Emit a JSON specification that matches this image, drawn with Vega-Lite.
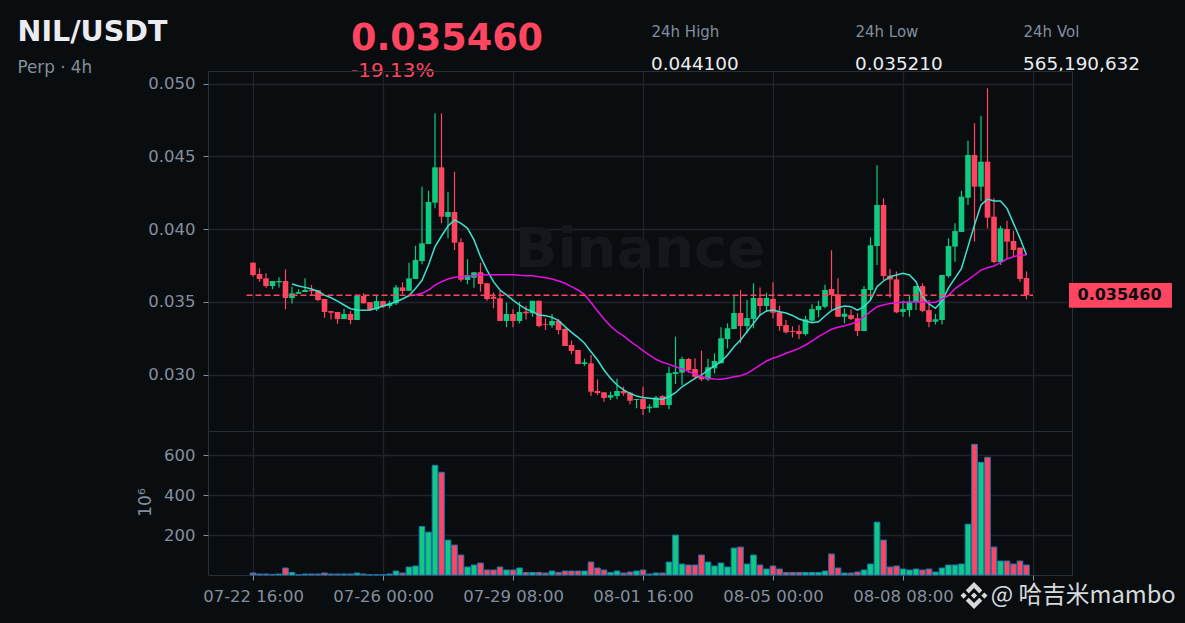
{
"$schema":"https://vega.github.io/schema/vega-lite/v6.json",
"background":"#0a0d10",
"padding":{"left":17,"top":0,"right":9,"bottom":15},
"bounds":"flush",
"spacing":0,
"datasets":{"kline":[
{"t":"2025-07-22T16:00Z","o":0.03770,"h":0.03770,"l":0.03673,"c":0.03685,"v":10},
{"t":"2025-07-22T20:00Z","o":0.03692,"h":0.03731,"l":0.03639,"c":0.03658,"v":5},
{"t":"2025-07-23T00:00Z","o":0.03662,"h":0.03697,"l":0.03598,"c":0.03609,"v":5},
{"t":"2025-07-23T04:00Z","o":0.03609,"h":0.03644,"l":0.03587,"c":0.03644,"v":3},
{"t":"2025-07-23T08:00Z","o":0.03635,"h":0.03669,"l":0.03600,"c":0.03644,"v":5},
{"t":"2025-07-23T12:00Z","o":0.03644,"h":0.03724,"l":0.03449,"c":0.03527,"v":35},
{"t":"2025-07-23T16:00Z","o":0.03527,"h":0.03604,"l":0.03490,"c":0.03559,"v":13,"ma7":0.03623},
{"t":"2025-07-23T20:00Z","o":0.03556,"h":0.03587,"l":0.03556,"c":0.03568,"v":0.5,"ma7":0.03609},
{"t":"2025-07-24T00:00Z","o":0.03568,"h":0.03662,"l":0.03568,"c":0.03582,"v":5,"ma7":0.03600},
{"t":"2025-07-24T04:00Z","o":0.03582,"h":0.03616,"l":0.03547,"c":0.03573,"v":5,"ma7":0.03589},
{"t":"2025-07-24T08:00Z","o":0.03580,"h":0.03582,"l":0.03506,"c":0.03513,"v":5,"ma7":0.03573},
{"t":"2025-07-24T12:00Z","o":0.03520,"h":0.03520,"l":0.03391,"c":0.03431,"v":10,"ma7":0.03547},
{"t":"2025-07-24T16:00Z","o":0.03437,"h":0.03437,"l":0.03380,"c":0.03426,"v":5,"ma7":0.03529},
{"t":"2025-07-24T20:00Z","o":0.03431,"h":0.03431,"l":0.03350,"c":0.03382,"v":5,"ma7":0.03506},
{"t":"2025-07-25T00:00Z","o":0.03382,"h":0.03453,"l":0.03382,"c":0.03417,"v":5,"ma7":0.03479},
{"t":"2025-07-25T04:00Z","o":0.03417,"h":0.03437,"l":0.03346,"c":0.03376,"v":5,"ma7":0.03453},
{"t":"2025-07-25T08:00Z","o":0.03376,"h":0.03541,"l":0.03376,"c":0.03541,"v":10,"ma7":0.03444},
{"t":"2025-07-25T12:00Z","o":0.03541,"h":0.03559,"l":0.03490,"c":0.03490,"v":5,"ma7":0.03442},
{"t":"2025-07-25T16:00Z","o":0.03499,"h":0.03499,"l":0.03437,"c":0.03444,"v":1,"ma7":0.03444},
{"t":"2025-07-25T20:00Z","o":0.03449,"h":0.03541,"l":0.03437,"c":0.03506,"v":1,"ma7":0.03456},
{"t":"2025-07-26T00:00Z","o":0.03506,"h":0.03506,"l":0.03458,"c":0.03467,"v":1,"ma7":0.03472},
{"t":"2025-07-26T04:00Z","o":0.03472,"h":0.03508,"l":0.03456,"c":0.03490,"v":5,"ma7":0.03486},
{"t":"2025-07-26T08:00Z","o":0.03490,"h":0.03616,"l":0.03479,"c":0.03600,"v":20,"ma7":0.03501},
{"t":"2025-07-26T12:00Z","o":0.03600,"h":0.03635,"l":0.03554,"c":0.03575,"v":10,"ma7":0.03520},
{"t":"2025-07-26T16:00Z","o":0.03577,"h":0.03770,"l":0.03577,"c":0.03662,"v":40,"ma7":0.03544,"ma25":0.03543},
{"t":"2025-07-26T20:00Z","o":0.03658,"h":0.03886,"l":0.03658,"c":0.03788,"v":45,"ma7":0.03592,"ma25":0.03548},
{"t":"2025-07-27T00:00Z","o":0.03781,"h":0.04292,"l":0.03759,"c":0.03903,"v":243,"ma7":0.03649,"ma25":0.03559},
{"t":"2025-07-27T04:00Z","o":0.03898,"h":0.04264,"l":0.03898,"c":0.04187,"v":215,"ma7":0.03754,"ma25":0.03582},
{"t":"2025-07-27T08:00Z","o":0.04182,"h":0.04796,"l":0.04143,"c":0.04425,"v":550,"ma7":0.03880,"ma25":0.03616},
{"t":"2025-07-27T12:00Z","o":0.04425,"h":0.04796,"l":0.04040,"c":0.04086,"v":515,"ma7":0.03953,"ma25":0.03639},
{"t":"2025-07-27T16:00Z","o":0.04084,"h":0.04257,"l":0.03937,"c":0.04118,"v":175,"ma7":0.04022,"ma25":0.03658},
{"t":"2025-07-27T20:00Z","o":0.04118,"h":0.04395,"l":0.03857,"c":0.03907,"v":150,"ma7":0.04063,"ma25":0.03669},
{"t":"2025-07-28T00:00Z","o":0.03910,"h":0.03937,"l":0.03639,"c":0.03653,"v":100,"ma7":0.04040,"ma25":0.03673},
{"t":"2025-07-28T04:00Z","o":0.03651,"h":0.03793,"l":0.03621,"c":0.03685,"v":40,"ma7":0.04006,"ma25":0.03678},
{"t":"2025-07-28T08:00Z","o":0.03666,"h":0.03704,"l":0.03598,"c":0.03704,"v":50,"ma7":0.03926,"ma25":0.03680},
{"t":"2025-07-28T12:00Z","o":0.03704,"h":0.03770,"l":0.03570,"c":0.03623,"v":60,"ma7":0.03811,"ma25":0.03685},
{"t":"2025-07-28T16:00Z","o":0.03628,"h":0.03630,"l":0.03508,"c":0.03520,"v":25,"ma7":0.03719,"ma25":0.03687},
{"t":"2025-07-28T20:00Z","o":0.03536,"h":0.03566,"l":0.03456,"c":0.03522,"v":25,"ma7":0.03639,"ma25":0.03687},
{"t":"2025-07-29T00:00Z","o":0.03525,"h":0.03575,"l":0.03369,"c":0.03369,"v":40,"ma7":0.03582,"ma25":0.03687},
{"t":"2025-07-29T04:00Z","o":0.03369,"h":0.03495,"l":0.03326,"c":0.03417,"v":25,"ma7":0.03548,"ma25":0.03687},
{"t":"2025-07-29T08:00Z","o":0.03417,"h":0.03449,"l":0.03326,"c":0.03369,"v":25,"ma7":0.03513,"ma25":0.03687},
{"t":"2025-07-29T12:00Z","o":0.03369,"h":0.03501,"l":0.03353,"c":0.03431,"v":35,"ma7":0.03479,"ma25":0.03683},
{"t":"2025-07-29T16:00Z","o":0.03433,"h":0.03474,"l":0.03380,"c":0.03422,"v":13,"ma7":0.03451,"ma25":0.03680},
{"t":"2025-07-29T20:00Z","o":0.03422,"h":0.03508,"l":0.03398,"c":0.03508,"v":13,"ma7":0.03433,"ma25":0.03680},
{"t":"2025-07-30T00:00Z","o":0.03508,"h":0.03508,"l":0.03326,"c":0.03334,"v":13,"ma7":0.03410,"ma25":0.03673},
{"t":"2025-07-30T04:00Z","o":0.03348,"h":0.03387,"l":0.03307,"c":0.03343,"v":10,"ma7":0.03405,"ma25":0.03666},
{"t":"2025-07-30T08:00Z","o":0.03339,"h":0.03417,"l":0.03323,"c":0.03369,"v":20,"ma7":0.03394,"ma25":0.03658},
{"t":"2025-07-30T12:00Z","o":0.03369,"h":0.03383,"l":0.03277,"c":0.03307,"v":13,"ma7":0.03371,"ma25":0.03644},
{"t":"2025-07-30T16:00Z","o":0.03314,"h":0.03321,"l":0.03197,"c":0.03197,"v":20,"ma7":0.03330,"ma25":0.03628},
{"t":"2025-07-30T20:00Z","o":0.03204,"h":0.03234,"l":0.03140,"c":0.03163,"v":20,"ma7":0.03291,"ma25":0.03605},
{"t":"2025-07-31T00:00Z","o":0.03170,"h":0.03170,"l":0.03073,"c":0.03073,"v":20,"ma7":0.03257,"ma25":0.03582},
{"t":"2025-07-31T04:00Z","o":0.03073,"h":0.03110,"l":0.03060,"c":0.03085,"v":20,"ma7":0.03216,"ma25":0.03550},
{"t":"2025-07-31T08:00Z","o":0.03078,"h":0.03135,"l":0.02855,"c":0.02883,"v":65,"ma7":0.03158,"ma25":0.03496},
{"t":"2025-07-31T12:00Z","o":0.02888,"h":0.02968,"l":0.02860,"c":0.02874,"v":35,"ma7":0.03101,"ma25":0.03438},
{"t":"2025-07-31T16:00Z","o":0.02879,"h":0.02879,"l":0.02814,"c":0.02840,"v":25,"ma7":0.03032,"ma25":0.03383},
{"t":"2025-07-31T20:00Z","o":0.02842,"h":0.02883,"l":0.02826,"c":0.02860,"v":13,"ma7":0.02975,"ma25":0.03334},
{"t":"2025-08-01T00:00Z","o":0.02853,"h":0.02972,"l":0.02831,"c":0.02888,"v":20,"ma7":0.02929,"ma25":0.03295},
{"t":"2025-08-01T04:00Z","o":0.02888,"h":0.02917,"l":0.02855,"c":0.02872,"v":10,"ma7":0.02895,"ma25":0.03266},
{"t":"2025-08-01T08:00Z","o":0.02876,"h":0.02881,"l":0.02796,"c":0.02821,"v":15,"ma7":0.02872,"ma25":0.03231},
{"t":"2025-08-01T12:00Z","o":0.02826,"h":0.02833,"l":0.02769,"c":0.02833,"v":20,"ma7":0.02853,"ma25":0.03199},
{"t":"2025-08-01T16:00Z","o":0.02833,"h":0.02917,"l":0.02723,"c":0.02764,"v":25,"ma7":0.02844,"ma25":0.03165},
{"t":"2025-08-01T20:00Z","o":0.02769,"h":0.02798,"l":0.02739,"c":0.02780,"v":5,"ma7":0.02838,"ma25":0.03135},
{"t":"2025-08-02T00:00Z","o":0.02773,"h":0.02855,"l":0.02773,"c":0.02844,"v":10,"ma7":0.02833,"ma25":0.03106},
{"t":"2025-08-02T04:00Z","o":0.02853,"h":0.02860,"l":0.02791,"c":0.02791,"v":10,"ma7":0.02831,"ma25":0.03085},
{"t":"2025-08-02T08:00Z","o":0.02791,"h":0.03055,"l":0.02762,"c":0.03011,"v":65,"ma7":0.02849,"ma25":0.03071},
{"t":"2025-08-02T12:00Z","o":0.03005,"h":0.03261,"l":0.02936,"c":0.03018,"v":200,"ma7":0.02876,"ma25":0.03055},
{"t":"2025-08-02T16:00Z","o":0.03014,"h":0.03124,"l":0.02929,"c":0.03108,"v":55,"ma7":0.02917,"ma25":0.03039},
{"t":"2025-08-02T20:00Z","o":0.03108,"h":0.03115,"l":0.03014,"c":0.03032,"v":50,"ma7":0.02945,"ma25":0.03023},
{"t":"2025-08-03T00:00Z","o":0.03039,"h":0.03113,"l":0.02968,"c":0.02986,"v":50,"ma7":0.02975,"ma25":0.03005},
{"t":"2025-08-03T04:00Z","o":0.02986,"h":0.03165,"l":0.02956,"c":0.02968,"v":100,"ma7":0.02998,"ma25":0.02986},
{"t":"2025-08-03T08:00Z","o":0.02968,"h":0.03110,"l":0.02956,"c":0.03051,"v":65,"ma7":0.03032,"ma25":0.02975},
{"t":"2025-08-03T12:00Z","o":0.03044,"h":0.03147,"l":0.03009,"c":0.03094,"v":45,"ma7":0.03060,"ma25":0.02970},
{"t":"2025-08-03T16:00Z","o":0.03078,"h":0.03326,"l":0.03078,"c":0.03250,"v":60,"ma7":0.03089,"ma25":0.02968},
{"t":"2025-08-03T20:00Z","o":0.03245,"h":0.03353,"l":0.03181,"c":0.03319,"v":40,"ma7":0.03135,"ma25":0.02975},
{"t":"2025-08-04T00:00Z","o":0.03314,"h":0.03548,"l":0.03314,"c":0.03424,"v":135,"ma7":0.03192,"ma25":0.02986},
{"t":"2025-08-04T04:00Z","o":0.03424,"h":0.03582,"l":0.03216,"c":0.03334,"v":140,"ma7":0.03238,"ma25":0.02993},
{"t":"2025-08-04T08:00Z","o":0.03334,"h":0.03513,"l":0.03284,"c":0.03389,"v":55,"ma7":0.03295,"ma25":0.03009},
{"t":"2025-08-04T12:00Z","o":0.03383,"h":0.03628,"l":0.03319,"c":0.03527,"v":100,"ma7":0.03353,"ma25":0.03037},
{"t":"2025-08-04T16:00Z","o":0.03527,"h":0.03600,"l":0.03410,"c":0.03472,"v":50,"ma7":0.03410,"ma25":0.03066},
{"t":"2025-08-04T20:00Z","o":0.03472,"h":0.03563,"l":0.03433,"c":0.03527,"v":30,"ma7":0.03438,"ma25":0.03094},
{"t":"2025-08-05T00:00Z","o":0.03520,"h":0.03635,"l":0.03387,"c":0.03426,"v":45,"ma7":0.03444,"ma25":0.03113},
{"t":"2025-08-05T04:00Z","o":0.03429,"h":0.03474,"l":0.03302,"c":0.03334,"v":30,"ma7":0.03433,"ma25":0.03128},
{"t":"2025-08-05T08:00Z","o":0.03341,"h":0.03376,"l":0.03283,"c":0.03291,"v":13,"ma7":0.03424,"ma25":0.03147},
{"t":"2025-08-05T12:00Z","o":0.03300,"h":0.03332,"l":0.03255,"c":0.03293,"v":13,"ma7":0.03407,"ma25":0.03163},
{"t":"2025-08-05T16:00Z","o":0.03300,"h":0.03341,"l":0.03245,"c":0.03279,"v":13,"ma7":0.03383,"ma25":0.03181},
{"t":"2025-08-05T20:00Z","o":0.03279,"h":0.03405,"l":0.03268,"c":0.03380,"v":13,"ma7":0.03369,"ma25":0.03204},
{"t":"2025-08-06T00:00Z","o":0.03371,"h":0.03484,"l":0.03360,"c":0.03451,"v":13,"ma7":0.03357,"ma25":0.03231},
{"t":"2025-08-06T04:00Z","o":0.03444,"h":0.03508,"l":0.03394,"c":0.03472,"v":13,"ma7":0.03364,"ma25":0.03261},
{"t":"2025-08-06T08:00Z","o":0.03467,"h":0.03618,"l":0.03456,"c":0.03582,"v":20,"ma7":0.03403,"ma25":0.03288},
{"t":"2025-08-06T12:00Z","o":0.03589,"h":0.03855,"l":0.03444,"c":0.03548,"v":105,"ma7":0.03440,"ma25":0.03312},
{"t":"2025-08-06T16:00Z","o":0.03552,"h":0.03662,"l":0.03398,"c":0.03398,"v":35,"ma7":0.03460,"ma25":0.03326},
{"t":"2025-08-06T20:00Z","o":0.03398,"h":0.03456,"l":0.03353,"c":0.03419,"v":10,"ma7":0.03472,"ma25":0.03337},
{"t":"2025-08-07T00:00Z","o":0.03410,"h":0.03449,"l":0.03376,"c":0.03383,"v":10,"ma7":0.03467,"ma25":0.03348},
{"t":"2025-08-07T04:00Z","o":0.03387,"h":0.03422,"l":0.03266,"c":0.03300,"v":15,"ma7":0.03444,"ma25":0.03364},
{"t":"2025-08-07T08:00Z","o":0.03300,"h":0.03609,"l":0.03300,"c":0.03589,"v":25,"ma7":0.03467,"ma25":0.03398},
{"t":"2025-08-07T12:00Z","o":0.03582,"h":0.03944,"l":0.03513,"c":0.03889,"v":55,"ma7":0.03513,"ma25":0.03433},
{"t":"2025-08-07T16:00Z","o":0.03884,"h":0.04439,"l":0.03754,"c":0.04166,"v":265,"ma7":0.03605,"ma25":0.03467},
{"t":"2025-08-07T20:00Z","o":0.04166,"h":0.04212,"l":0.03651,"c":0.03678,"v":175,"ma7":0.03644,"ma25":0.03479},
{"t":"2025-08-08T00:00Z","o":0.03680,"h":0.03726,"l":0.03529,"c":0.03654,"v":40,"ma7":0.03673,"ma25":0.03490},
{"t":"2025-08-08T04:00Z","o":0.03655,"h":0.03709,"l":0.03422,"c":0.03429,"v":45,"ma7":0.03685,"ma25":0.03495},
{"t":"2025-08-08T08:00Z","o":0.03431,"h":0.03508,"l":0.03398,"c":0.03451,"v":30,"ma7":0.03697,"ma25":0.03497},
{"t":"2025-08-08T12:00Z","o":0.03444,"h":0.03548,"l":0.03398,"c":0.03497,"v":25,"ma7":0.03685,"ma25":0.03499},
{"t":"2025-08-08T16:00Z","o":0.03497,"h":0.03609,"l":0.03444,"c":0.03609,"v":30,"ma7":0.03639,"ma25":0.03501},
{"t":"2025-08-08T20:00Z","o":0.03609,"h":0.03628,"l":0.03429,"c":0.03438,"v":25,"ma7":0.03536,"ma25":0.03499},
{"t":"2025-08-09T00:00Z","o":0.03444,"h":0.03513,"l":0.03326,"c":0.03362,"v":30,"ma7":0.03486,"ma25":0.03495},
{"t":"2025-08-09T04:00Z","o":0.03364,"h":0.03417,"l":0.03345,"c":0.03381,"v":15,"ma7":0.03456,"ma25":0.03497},
{"t":"2025-08-09T08:00Z","o":0.03376,"h":0.03685,"l":0.03345,"c":0.03685,"v":35,"ma7":0.03506,"ma25":0.03520},
{"t":"2025-08-09T12:00Z","o":0.03678,"h":0.03937,"l":0.03666,"c":0.03884,"v":50,"ma7":0.03596,"ma25":0.03544},
{"t":"2025-08-09T16:00Z","o":0.03880,"h":0.04040,"l":0.03776,"c":0.03987,"v":50,"ma7":0.03664,"ma25":0.03592},
{"t":"2025-08-09T20:00Z","o":0.03981,"h":0.04264,"l":0.03981,"c":0.04223,"v":55,"ma7":0.03731,"ma25":0.03623},
{"t":"2025-08-10T00:00Z","o":0.04216,"h":0.04608,"l":0.04166,"c":0.04510,"v":255,"ma7":0.03880,"ma25":0.03651},
{"t":"2025-08-10T04:00Z","o":0.04510,"h":0.04728,"l":0.03914,"c":0.04292,"v":655,"ma7":0.04029,"ma25":0.03685},
{"t":"2025-08-10T08:00Z","o":0.04292,"h":0.04778,"l":0.04194,"c":0.04464,"v":565,"ma7":0.04166,"ma25":0.03719},
{"t":"2025-08-10T12:00Z","o":0.04464,"h":0.04968,"l":0.04006,"c":0.04079,"v":590,"ma7":0.04207,"ma25":0.03735},
{"t":"2025-08-10T16:00Z","o":0.04086,"h":0.04212,"l":0.03765,"c":0.03774,"v":140,"ma7":0.04194,"ma25":0.03747},
{"t":"2025-08-10T20:00Z","o":0.03774,"h":0.04024,"l":0.03754,"c":0.04006,"v":70,"ma7":0.04194,"ma25":0.03770},
{"t":"2025-08-11T00:00Z","o":0.04001,"h":0.04058,"l":0.03795,"c":0.03914,"v":70,"ma7":0.04143,"ma25":0.03795},
{"t":"2025-08-11T04:00Z","o":0.03919,"h":0.03989,"l":0.03811,"c":0.03857,"v":55,"ma7":0.04040,"ma25":0.03811},
{"t":"2025-08-11T08:00Z","o":0.03873,"h":0.03873,"l":0.03639,"c":0.03658,"v":70,"ma7":0.03937,"ma25":0.03822},
{"t":"2025-08-11T12:00Z","o":0.03664,"h":0.03709,"l":0.03518,"c":0.03546,"v":50,"ma7":0.03822,"ma25":0.03822}
]},
"vconcat":[
{
"width":864,"height":71,
"view":{"stroke":null},
"data":{"values":[{}]},
"layer":[
{"mark":{"type":"text","text":"NIL/USDT","fontSize":28.5,"fontWeight":"bold","color":"#eaecef","align":"left","baseline":"alphabetic"},"encoding":{"x":{"datum":-0.2204,"scale":{"domain":[0,1]},"axis":null},"y":{"datum":0.4225,"scale":{"domain":[0,1]},"axis":null}}},
{"mark":{"type":"text","text":"Perp · 4h","fontSize":16.8,"color":"#848e9c","align":"left","baseline":"alphabetic"},"encoding":{"x":{"datum":-0.2206,"scale":{"domain":[0,1]},"axis":null},"y":{"datum":-0.028,"scale":{"domain":[0,1]},"axis":null}}},
{"mark":{"type":"text","text":"0.035460","fontSize":36.6,"fontWeight":"bold","color":"#ff4560","align":"left","baseline":"alphabetic"},"encoding":{"x":{"datum":0.1655,"scale":{"domain":[0,1]},"axis":null},"y":{"datum":0.296,"scale":{"domain":[0,1]},"axis":null}}},
{"mark":{"type":"text","text":"-19.13%","fontSize":20,"color":"#ff4560","align":"left","baseline":"alphabetic"},"encoding":{"x":{"datum":0.1655,"scale":{"domain":[0,1]},"axis":null},"y":{"datum":-0.089,"scale":{"domain":[0,1]},"axis":null}}},
{"mark":{"type":"text","text":"24h High","fontSize":15,"color":"#848e9c","align":"left","baseline":"alphabetic"},"encoding":{"x":{"datum":0.5133,"scale":{"domain":[0,1]},"axis":null},"y":{"datum":0.479,"scale":{"domain":[0,1]},"axis":null}}},
{"mark":{"type":"text","text":"0.044100","fontSize":18.4,"color":"#eaecef","align":"left","baseline":"alphabetic"},"encoding":{"x":{"datum":0.5127,"scale":{"domain":[0,1]},"axis":null},"y":{"datum":0.014,"scale":{"domain":[0,1]},"axis":null}}},
{"mark":{"type":"text","text":"24h Low","fontSize":15,"color":"#848e9c","align":"left","baseline":"alphabetic"},"encoding":{"x":{"datum":0.7494,"scale":{"domain":[0,1]},"axis":null},"y":{"datum":0.479,"scale":{"domain":[0,1]},"axis":null}}},
{"mark":{"type":"text","text":"0.035210","fontSize":18.4,"color":"#eaecef","align":"left","baseline":"alphabetic"},"encoding":{"x":{"datum":0.7488,"scale":{"domain":[0,1]},"axis":null},"y":{"datum":0.014,"scale":{"domain":[0,1]},"axis":null}}},
{"mark":{"type":"text","text":"24h Vol","fontSize":15,"color":"#848e9c","align":"left","baseline":"alphabetic"},"encoding":{"x":{"datum":0.9439,"scale":{"domain":[0,1]},"axis":null},"y":{"datum":0.479,"scale":{"domain":[0,1]},"axis":null}}},
{"mark":{"type":"text","text":"565,190,632","fontSize":18.4,"color":"#eaecef","align":"left","baseline":"alphabetic"},"encoding":{"x":{"datum":0.9433,"scale":{"domain":[0,1]},"axis":null},"y":{"datum":0.014,"scale":{"domain":[0,1]},"axis":null}}}
]
},
{
"width":864,"height":360,
"encoding":{"x":{"field":"t","type":"temporal","title":null,"scale":{"type":"utc","padding":0,"domain":["2025-07-21T12:18:00Z","2025-08-12T16:00:00Z"]},"axis":{"values":["2025-07-22T16:00Z","2025-07-26T00:00Z","2025-07-29T08:00Z","2025-08-01T16:00Z","2025-08-05T00:00Z","2025-08-08T08:00Z","2025-08-11T16:00Z"],"labels":false,"ticks":false,"domain":false,"grid":true}}},
"layer":[
{"data":{"values":[{"t":"2025-08-01T14:09Z","p":0.03857,"label":"Binance"}]},
"mark":{"type":"text","fontSize":56,"fontWeight":"bold","color":"#14181c","baseline":"middle"},
"encoding":{"y":{"field":"p","type":"quantitative","title":null,"scale":{"domain":[0.02613,0.05087]},"axis":{"values":[0.03,0.035,0.04,0.045,0.05],"format":".3f","grid":true,"domain":false}},"text":{"field":"label"}}},
{"data":{"name":"kline"},"mark":{"type":"rule","strokeWidth":1.2},
"encoding":{"y":{"field":"l","type":"quantitative","title":null,"scale":{"domain":[0.02613,0.05087]}},"y2":{"field":"h"},"color":{"condition":{"test":"datum.c < datum.o","value":"#ff4560"},"value":"#0ecb81"}}},
{"data":{"name":"kline"},"mark":{"type":"bar","size":5.6},
"encoding":{"y":{"field":"o","type":"quantitative","title":null,"scale":{"domain":[0.02613,0.05087]}},"y2":{"field":"c"},"color":{"condition":{"test":"datum.c < datum.o","value":"#ff4560"},"value":"#0ecb81"}}},
{"data":{"name":"kline"},"mark":{"type":"line","color":"#40e0d0","strokeWidth":1.5},
"encoding":{"y":{"field":"ma7","type":"quantitative","title":null,"scale":{"domain":[0.02613,0.05087]}}}},
{"data":{"name":"kline"},"mark":{"type":"line","color":"#e60fe6","strokeWidth":1.5},
"encoding":{"y":{"field":"ma25","type":"quantitative","title":null,"scale":{"domain":[0.02613,0.05087]}}}},
{"data":{"values":[{"t":"2025-07-22T12:00Z","t2":"2025-08-11T16:00Z","last":0.03546}]},
"mark":{"type":"rule","color":"#ff4560","strokeWidth":1.7,"strokeDash":[6,3]},
"encoding":{"x2":{"field":"t2"},"y":{"field":"last","type":"quantitative","title":null,"scale":{"domain":[0.02613,0.05087]}}}},
{"data":{"values":[{"t":"2025-08-12T14:09Z","t2":"2025-08-15T05:31Z","top":0.0363,"bottom":0.034602}]},
"mark":{"type":"rect","color":"#ff4560"},
"encoding":{"x2":{"field":"t2"},"y":{"field":"top","type":"quantitative","title":null,"scale":{"domain":[0.02613,0.05087]}},"y2":{"field":"bottom"}}},
{"data":{"values":[{"t":"2025-08-13T21:14Z","last":0.03546,"label":"0.035460"}]},
"mark":{"type":"text","fontSize":16,"fontWeight":"bold","color":"#0a0d10","baseline":"middle"},
"encoding":{"y":{"field":"last","type":"quantitative","title":null,"scale":{"domain":[0.02613,0.05087]}},"text":{"field":"label"}}}
]
},
{
"width":864,"height":144,
"encoding":{"x":{"field":"t","type":"temporal","title":null,"scale":{"type":"utc","padding":0,"domain":["2025-07-21T12:18:00Z","2025-08-12T16:00:00Z"]},"axis":{"values":["2025-07-22T16:00Z","2025-07-26T00:00Z","2025-07-29T08:00Z","2025-08-01T16:00Z","2025-08-05T00:00Z","2025-08-08T08:00Z","2025-08-11T16:00Z"],"format":"%m-%d %H:%M","labelExpr":"datum.label == '08-11 16:00' ? '' : datum.label","labelOverlap":false,"labelFlush":false,"labelBound":false,"grid":true,"domain":false}}},
"layer":[
{"data":{"name":"kline"},"mark":{"type":"bar","size":5.6,"stroke":"#1f77b4","strokeWidth":1},
"encoding":{"y":{"field":"v","type":"quantitative","title":"10⁶","scale":{"domain":[0,722]},"axis":{"values":[200,400,600],"grid":true,"domain":false,"titleX":-54,"titleY":71}},"fill":{"condition":{"test":"datum.c < datum.o","value":"#ff4560"},"value":"#0ecb81"}}},
{"data":{"values":[{"t":"2025-08-10T03:42Z","v":-103}]},
"mark":{"type":"point","shape":"M0 -1L0.61 -0.39L0.39 -0.16L0 -0.55L-0.39 -0.16L-0.61 -0.39ZM0 1L0.61 0.39L0.39 0.16L0 0.55L-0.39 0.16L-0.61 0.39ZM0 -0.23L0.23 0L0 0.23L-0.23 0ZM-0.77 -0.23L-0.54 0L-0.77 0.23L-1 0ZM0.77 -0.23L0.54 0L0.77 0.23L1 0Z","filled":true,"size":729,"color":"#d7dadd","opacity":1},
"encoding":{"y":{"field":"v","type":"quantitative","title":"10⁶","scale":{"domain":[0,722]}}}},
{"data":{"values":[{"t":"2025-08-10T14:00Z","v":-103,"label":"@ 哈吉米mambo"}]},
"mark":{"type":"text","font":"Noto Sans CJK SC","fontSize":23.7,"color":"#d7dadd","align":"left","baseline":"middle"},
"encoding":{"y":{"field":"v","type":"quantitative","title":"10⁶","scale":{"domain":[0,722]}},"text":{"field":"label"}}}
]
}
],
"config":{
"font":"DejaVu Sans",
"view":{"stroke":"#2a2e35"},
"axis":{"labelFont":"DejaVu Sans","labelFontSize":16.5,"labelColor":"#848e9c","titleFont":"DejaVu Sans","titleFontSize":17,"titleFontWeight":"normal","titleColor":"#848e9c","tickColor":"#848e9c","tickSize":5,"labelPadding":8,"gridColor":"#20242a","gridWidth":1.3}
}
}
